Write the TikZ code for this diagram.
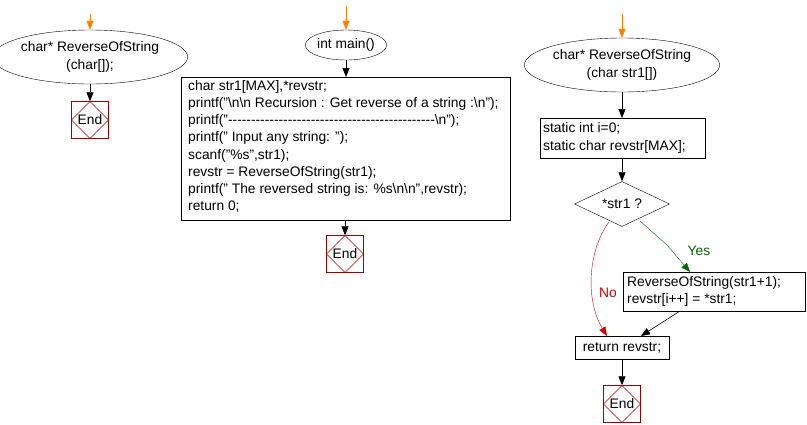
\documentclass[tikz,border=0pt]{standalone}
\usepackage{fontspec}
\setmainfont{Liberation Sans}[Ligatures=NoCommon]
\usetikzlibrary{shapes.geometric,arrows.meta}
\newcommand{\hy}{\mbox{-}}
\begin{document}
\begin{tikzpicture}[x=1pt,y=-1pt,font=\fontsize{13.8}{17.2}\selectfont,
  term/.style={ellipse,draw,inner sep=0pt,align=center},
  endb/.style={rectangle,draw=red!60!black,minimum width=37,minimum height=37,inner sep=0pt,
    path picture={\draw[red!70!black] (path picture bounding box.north) -- (path picture bounding box.east) -- (path picture bounding box.south) -- (path picture bounding box.west) -- cycle;}},
  ar/.style={-{Triangle[length=9,width=7]},line width=0.6pt},
  st/.style={-{Triangle[length=9,width=7]},orange,line width=0.6pt}]
\useasboundingbox (0,0) rectangle (807,424);
% left
\coordinate (s1) at (90,14);
\node[term,minimum width=170,minimum height=54] (e1) at (90,57) {char* ReverseOfString\\(char[]);};
\node[endb] (end1) at (90,120) {End};
\draw[st] (s1) -- (e1);
\draw[ar] (e1) -- (end1);
% middle
\coordinate (s2) at (346,6);
\node[term,minimum width=78,minimum height=30] (e2) at (346,45) {int main()};
\node[draw,rectangle,anchor=north west,minimum width=329,minimum height=143,inner sep=0pt] (b2) at (181,77) {};
\node[anchor=north west,align=left,inner sep=0pt] (t2) at (188,80) {char str1[MAX],*revstr;\\printf("\textbackslash n\textbackslash n Recursion : Get reverse of a string :\textbackslash n");\\printf("\hy\hy\hy\hy\hy\hy\hy\hy\hy\hy\hy\hy\hy\hy\hy\hy\hy\hy\hy\hy\hy\hy\hy\hy\hy\hy\hy\hy\hy\hy\hy\hy\hy\hy\hy\hy\hy\hy\hy\hy\hy\hy\hy\hy\hy\textbackslash n");\\printf(" Input any string: ");\\scanf("\%s",str1);\\revstr = ReverseOfString(str1);\\printf(" The reversed string is: \%s\textbackslash n\textbackslash n",revstr);\\return 0;};
\node[endb] (end2) at (345,254) {End};
\draw[st] (s2) -- (e2);
\draw[ar] (e2) -- (b2.north -| e2);
\draw[ar] (b2.south -| end2) -- (end2);
% right
\coordinate (s3) at (622,14);
\node[term,minimum width=170,minimum height=54] (e3) at (622,65) {char* ReverseOfString\\(char str1[])};
\node[draw,rectangle,anchor=north west,minimum width=165,minimum height=40,inner sep=0pt] (b3) at (540,118) {};
\node[anchor=west,align=left,inner sep=0pt] (t3) at (543,138) {static int i=0;\\static char revstr[MAX];};
\node[diamond,draw,aspect=2.1,minimum width=95,minimum height=45,inner sep=0pt] (d) at (622,204) {*str1 ?};
\node[draw,rectangle,anchor=north west,minimum width=182,minimum height=39,inner sep=0pt] (b4) at (623,272) {};
\node[anchor=west,align=left,inner sep=0pt] (t4) at (627,291.5) {ReverseOfString(str1+1);\\revstr[i++] = *str1;};
\node[draw,rectangle,minimum width=94,minimum height=23,inner sep=0pt] (r) at (622,348) {return revstr;};
\node[endb] (end3) at (622,404) {End};
\draw[st] (s3) -- (e3);
\draw[ar] (e3) -- (b3.north -| e3);
\draw[ar] (b3.south -| d) -- (d);
\draw[ar,green!40!black,line width=0.4pt] (640,221) coordinate (ys) -- (667,245) -- (690,272) coordinate (ye);
\node[green!40!black] (yes) at (699,251) {Yes};
\draw[ar,red!80!black,line width=0.4pt] (609,222) .. controls (588,250) and (585,300) .. (607,336);
\node[red!80!black] (no) at (608,293) {No};
\draw[ar] (680,311) -- (641,336);
\draw[ar] (r) -- (end3);
\end{tikzpicture}
\end{document}
